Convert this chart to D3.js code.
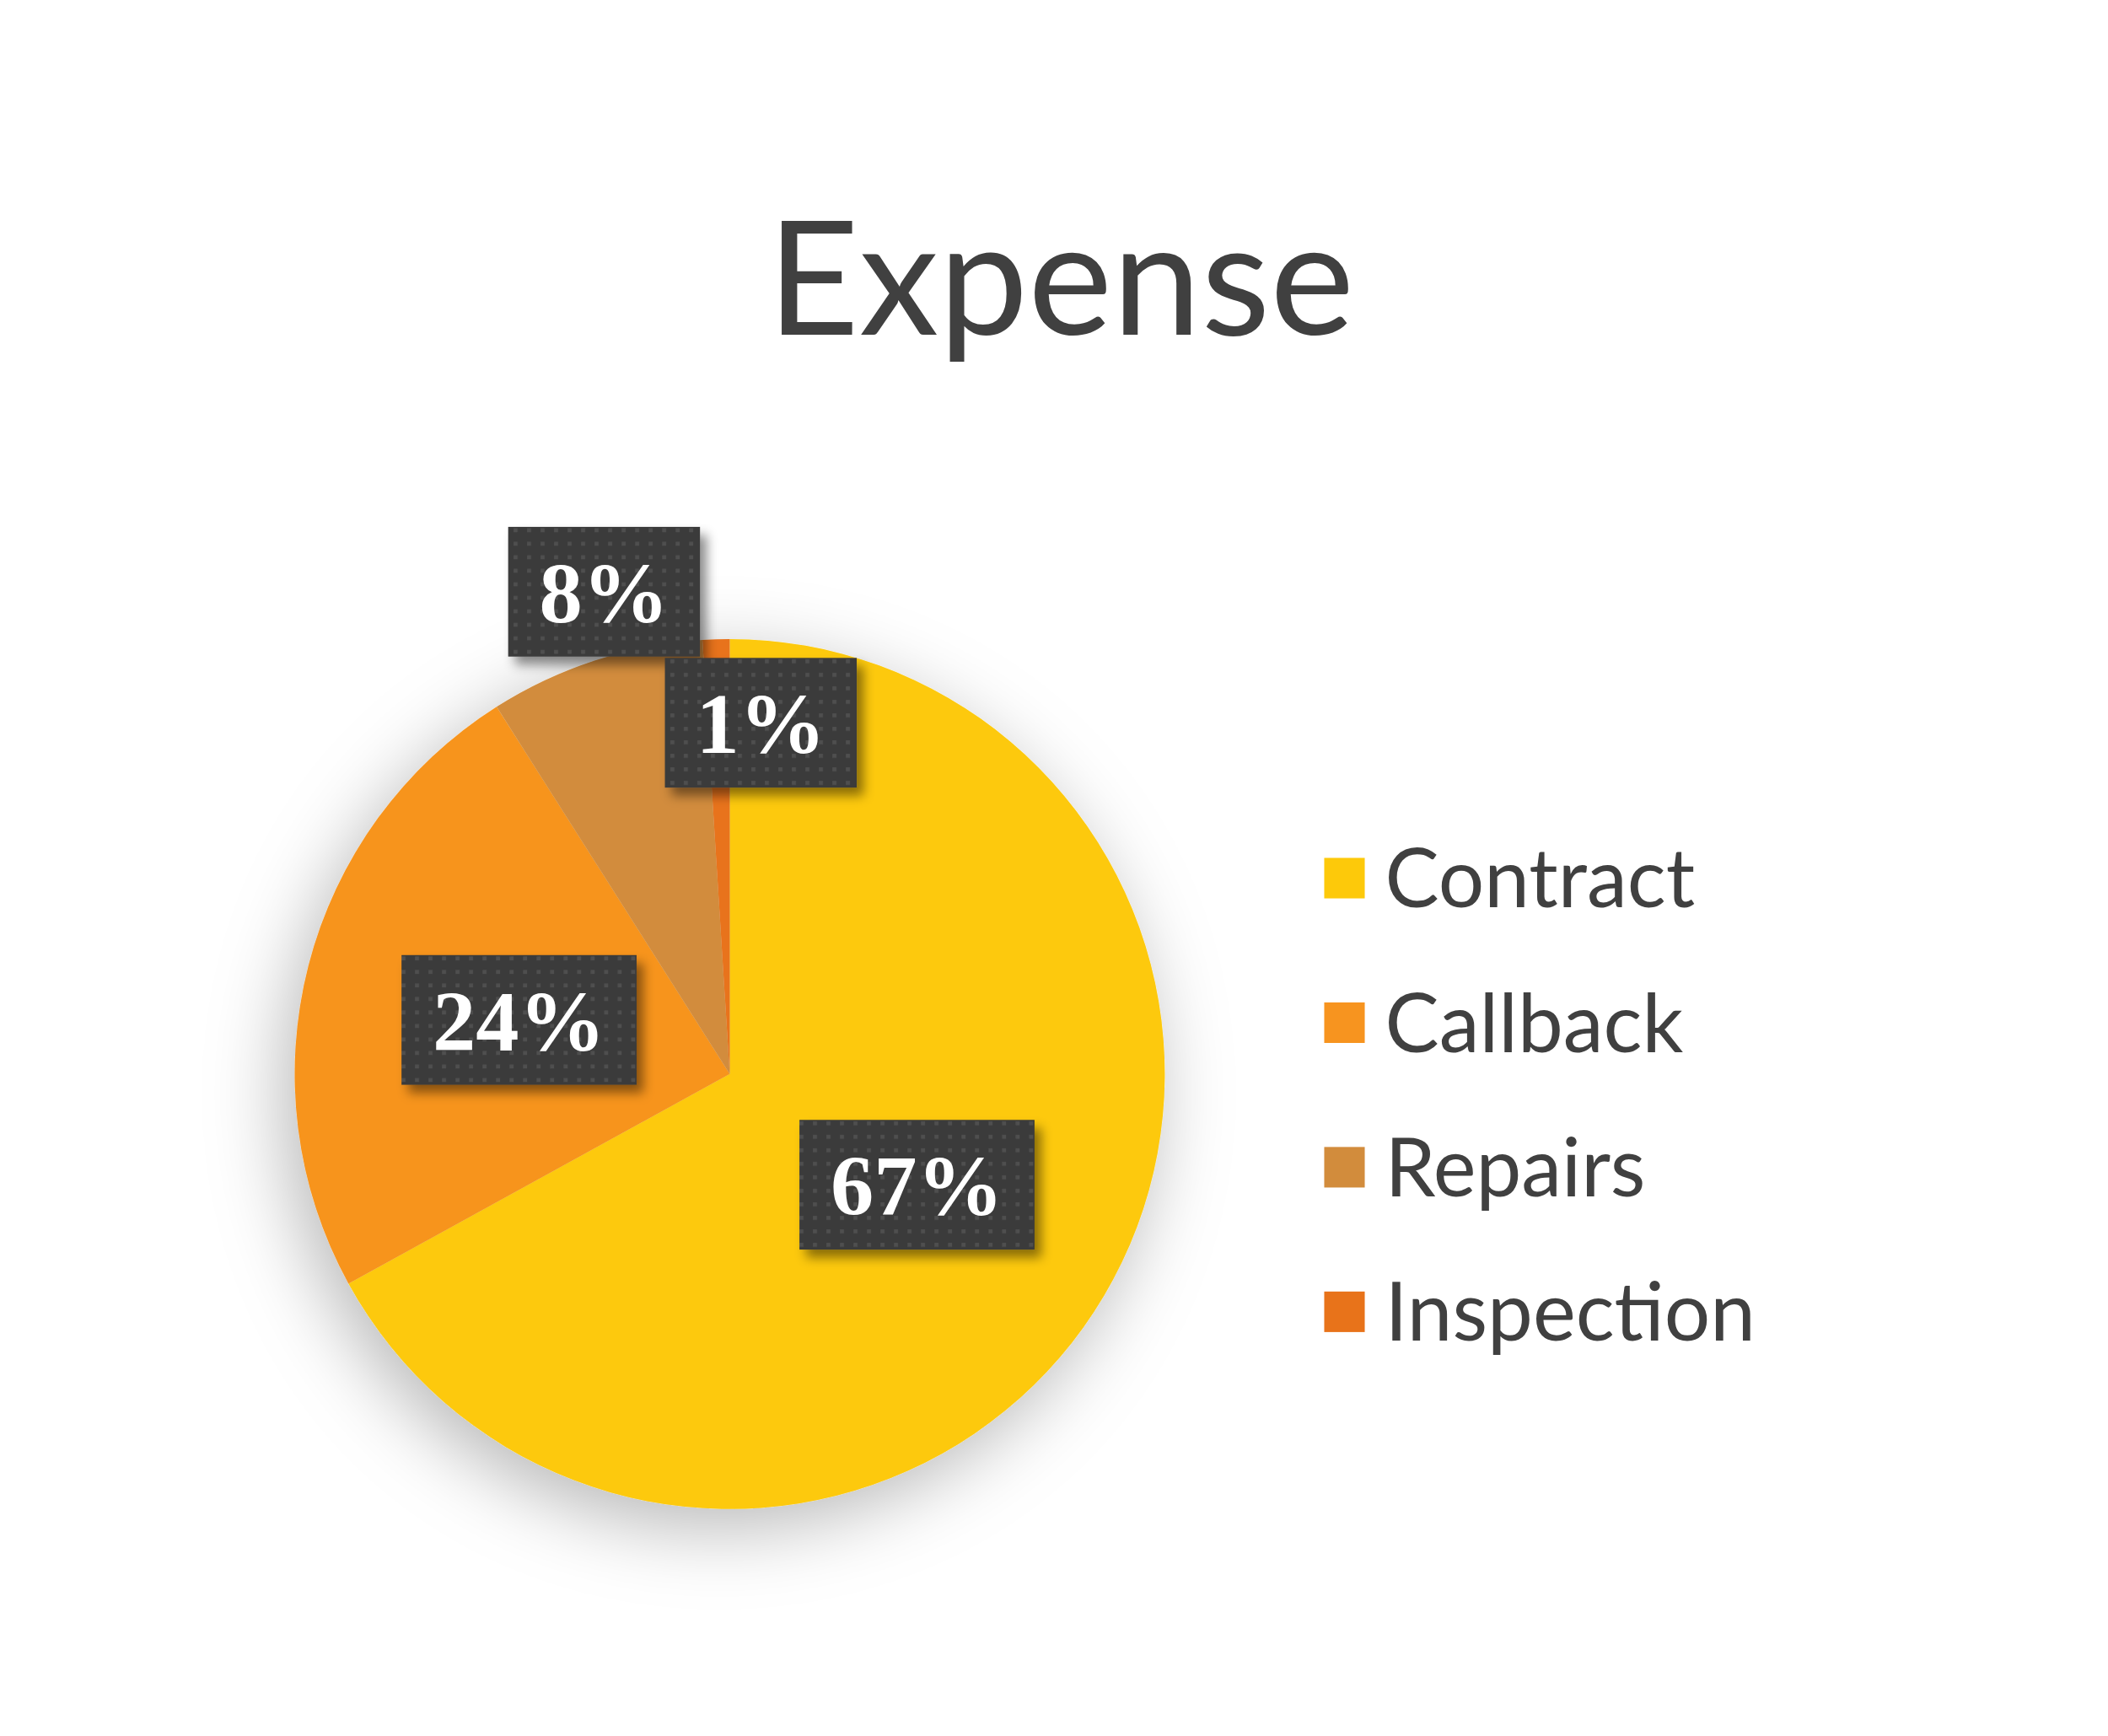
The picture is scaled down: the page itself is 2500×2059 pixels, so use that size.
<!DOCTYPE html>
<html><head><meta charset="utf-8">
<script src="https://cdn.jsdelivr.net/npm/d3@7"></script>
<style>body{margin:0;background:#fff}</style>
</head><body>
<script>
const categories = ["Contract", "Callback", "Repairs", "Inspection"];
const values = [67, 24, 8, 1];
const colors = ["#FDC90A", "#F7941F", "#D28C3C", "#E8731A"];
const title = "Expense";

const svg = d3.select("body").append("svg")
  .attr("width", 2500).attr("height", 2059)
  .attr("viewBox", "0 0 1560 1285");

const defs = svg.append("defs");
const sh = defs.append("filter").attr("id", "pieShadow")
  .attr("x", "-40%").attr("y", "-40%").attr("width", "180%").attr("height", "180%");
sh.append("feDropShadow").attr("dx", -8).attr("dy", 14).attr("stdDeviation", 28)
  .attr("flood-color", "#000").attr("flood-opacity", 0.28);
const bs = defs.append("filter").attr("id", "boxShadow")
  .attr("x", "-20%").attr("y", "-20%").attr("width", "150%").attr("height", "150%");
bs.append("feDropShadow").attr("dx", 5).attr("dy", 6).attr("stdDeviation", 4)
  .attr("flood-color", "#000").attr("flood-opacity", 0.45);
const pat = defs.append("pattern").attr("id", "dots").attr("patternUnits", "userSpaceOnUse")
  .attr("width", 10).attr("height", 10);
pat.append("rect").attr("width", 10).attr("height", 10).attr("fill", "#3a3a3a");
pat.append("rect").attr("x", 3).attr("y", 3).attr("width", 3).attr("height", 3).attr("fill", "#4f4f4f");

svg.append("text").attr("x", 785).attr("y", 248).attr("text-anchor", "middle")
  .attr("font-family", "Lato, 'Noto Sans', sans-serif").attr("font-size", 118)
  .attr("fill", "#404040").text(title);

const cx = 540, cy = 795, r = 322;
const pie = d3.pie().sort(null).value(d => d)(values);
const arc = d3.arc().innerRadius(0).outerRadius(r);
const g = svg.append("g").attr("transform", `translate(${cx},${cy})`);
g.append("g").attr("filter", "url(#pieShadow)")
  .selectAll("path").data(pie).join("path")
  .attr("d", arc).attr("fill", (d, i) => colors[i]);

// small slices get pushed out of the pie the way the original chart did
const moved = [null, null, [-93, -357], [23, -260]];
const lab = g.selectAll("g.lab").data(pie).join("g").attr("class", "lab")
  .attr("transform", (d, i) => `translate(${moved[i] || arc.centroid(d)})`);
lab.each(function(d) {
  const el = d3.select(this);
  const pct = Math.round(d.value / d3.sum(values) * 100) + "%";
  const rect = el.append("rect").attr("fill", "url(#dots)").attr("filter", "url(#boxShadow)");
  const t = el.append("text").attr("text-anchor", "middle").attr("dy", "0.35em")
    .attr("font-family", "'Liberation Serif', 'DejaVu Serif', serif").attr("font-weight", "bold")
    .attr("font-size", 64).attr("fill", "#fff").text(pct);
  const w = t.node().getComputedTextLength() + 46, h = 96;
  rect.attr("x", -w / 2).attr("y", -h / 2).attr("width", w).attr("height", h);
});

const y = d3.scalePoint().domain(categories).range([650, 971]);
const leg = svg.append("g").selectAll("g").data(categories).join("g")
  .attr("transform", d => `translate(980,${y(d)})`);
leg.append("rect").attr("y", -15).attr("width", 30).attr("height", 30)
  .attr("fill", (d, i) => colors[i]);
leg.append("text").attr("x", 45).attr("dy", "0.36em")
  .attr("font-family", "Lato, 'Noto Sans', sans-serif").attr("font-size", 60)
  .attr("fill", "#404040").text(d => d);
</script>
</body></html>
